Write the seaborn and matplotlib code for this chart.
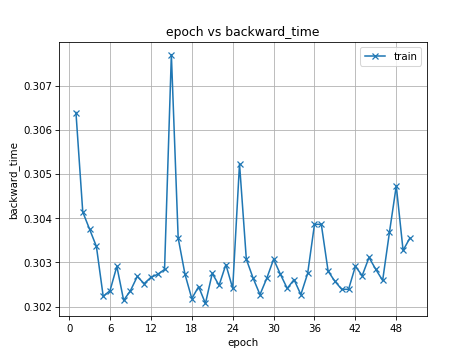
import numpy as np
import pandas as pd
import matplotlib
matplotlib.use('Agg')
import matplotlib.pyplot as plt
import seaborn as sns

epochs = list(range(1, 51))
backward_time = [
    0.30639, 0.30414, 0.30375, 0.30336, 0.30223, 0.30236, 0.30291, 0.30214, 0.30236, 0.30268,
    0.30252, 0.30266, 0.30273, 0.30284, 0.30770, 0.30355, 0.30273, 0.30218, 0.30245, 0.30207,
    0.30275, 0.30248, 0.30295, 0.30241, 0.30523, 0.30307, 0.30264, 0.30227, 0.30264, 0.30307,
    0.30273, 0.30241, 0.30261, 0.30227, 0.30275, 0.30386, 0.30386, 0.30280, 0.30257, 0.30239,
    0.30239, 0.30291, 0.30270, 0.30311, 0.30284, 0.30259, 0.30368, 0.30473, 0.30327, 0.30355,
]

df = pd.DataFrame({'epoch': epochs, 'backward_time': backward_time})

fig, ax = plt.subplots(figsize=(6.4, 4.8), dpi=74.0625)
sns.lineplot(data=df, x='epoch', y='backward_time', marker='x', markersize=6,
             markeredgewidth=1.2, color='#1f77b4', markeredgecolor='#1f77b4',
             label='train', ax=ax)
ax.set_xticks(range(0, 50, 6))
ax.set_yticks([0.302, 0.303, 0.304, 0.305, 0.306, 0.307])
ax.grid(True)
ax.set_title('epoch vs backward_time')
ax.legend(loc='upper right')
fig.subplots_adjust(left=0.125, right=0.9, top=0.88, bottom=0.11)
fig.savefig('out.png', dpi=74.0625)
